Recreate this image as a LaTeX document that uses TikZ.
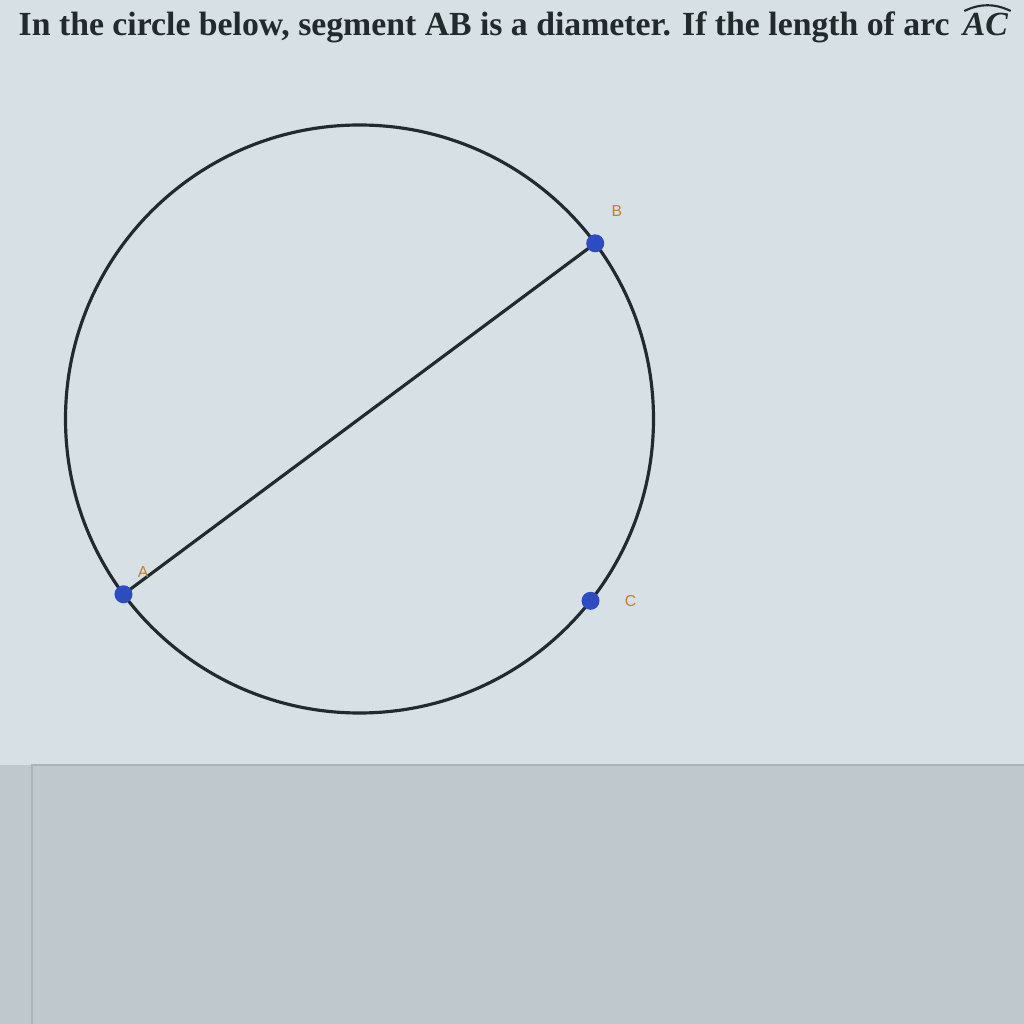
\documentclass[tikz,border=0pt]{standalone}
\usepackage{amsmath}
\usepackage{fontspec}
\setmainfont{Liberation Serif}
\setsansfont{Liberation Sans}
\usetikzlibrary{calc, positioning}
\definecolor{screenTop}{RGB}{214,224,229}
\definecolor{screenLow}{RGB}{190,200,205}
\definecolor{lineBlack}{RGB}{35,42,45}
\definecolor{pointBlue}{RGB}{45,75,195}
\definecolor{labelOrange}{RGB}{196,128,40}

\begin{document}
\begin{tikzpicture}[x=1cm, y=1cm]
    \useasboundingbox (0,0) rectangle (10.24,10.24);
    \fill[screenTop] (0,0) rectangle (10.24,10.24);
    \fill[screenLow] (0,0) rectangle (10.24,2.59); % lower panel
    \draw[screenLow!90!black, line width=0.5pt] (0.32,0) -- (0.32,2.59) -- (10.24,2.59);

    \coordinate (O) at (3.595,6.05);
    \coordinate (A) at ($(O)+(216.6:2.94)$);
    \coordinate (B) at ($(O)+(36.7:2.94)$);
    \coordinate (C) at ($(O)+(-38.2:2.94)$);

    \node[anchor=base west, inner sep=0pt, font=\fontsize{9.6}{11}\selectfont\bfseries, lineBlack]
        (title) at (0.18,9.88) {In the circle below, segment AB is a diameter. If the length of arc};
    \node[anchor=base west, inner sep=0pt, font=\fontsize{9.6}{11}\selectfont\bfseries\itshape, lineBlack,
        right=0.12 of title.base east, anchor=base west] (arcAC) {AC};
    \draw[lineBlack, line width=0.6pt] ($(arcAC.north west)+(0.02,0.02)$) to[bend left=25] ($(arcAC.north east)+(0.02,0.02)$);

    \draw[lineBlack, line width=0.9pt] (O) circle (2.94);
    \draw[lineBlack, line width=0.9pt] (A) -- (B);

    \fill[pointBlue] (A) circle (0.09) node[labelOrange, font=\sffamily\fontsize{4.5}{5}\selectfont, above right=0.04 and 0.02] {A};
    \fill[pointBlue] (B) circle (0.09) node[labelOrange, font=\sffamily\fontsize{4.5}{5}\selectfont, above right=0.14 and 0.04] {B};
    \fill[pointBlue] (C) circle (0.09) node[labelOrange, font=\sffamily\fontsize{4.5}{5}\selectfont, right=0.22] {C};
\end{tikzpicture}
\end{document}
